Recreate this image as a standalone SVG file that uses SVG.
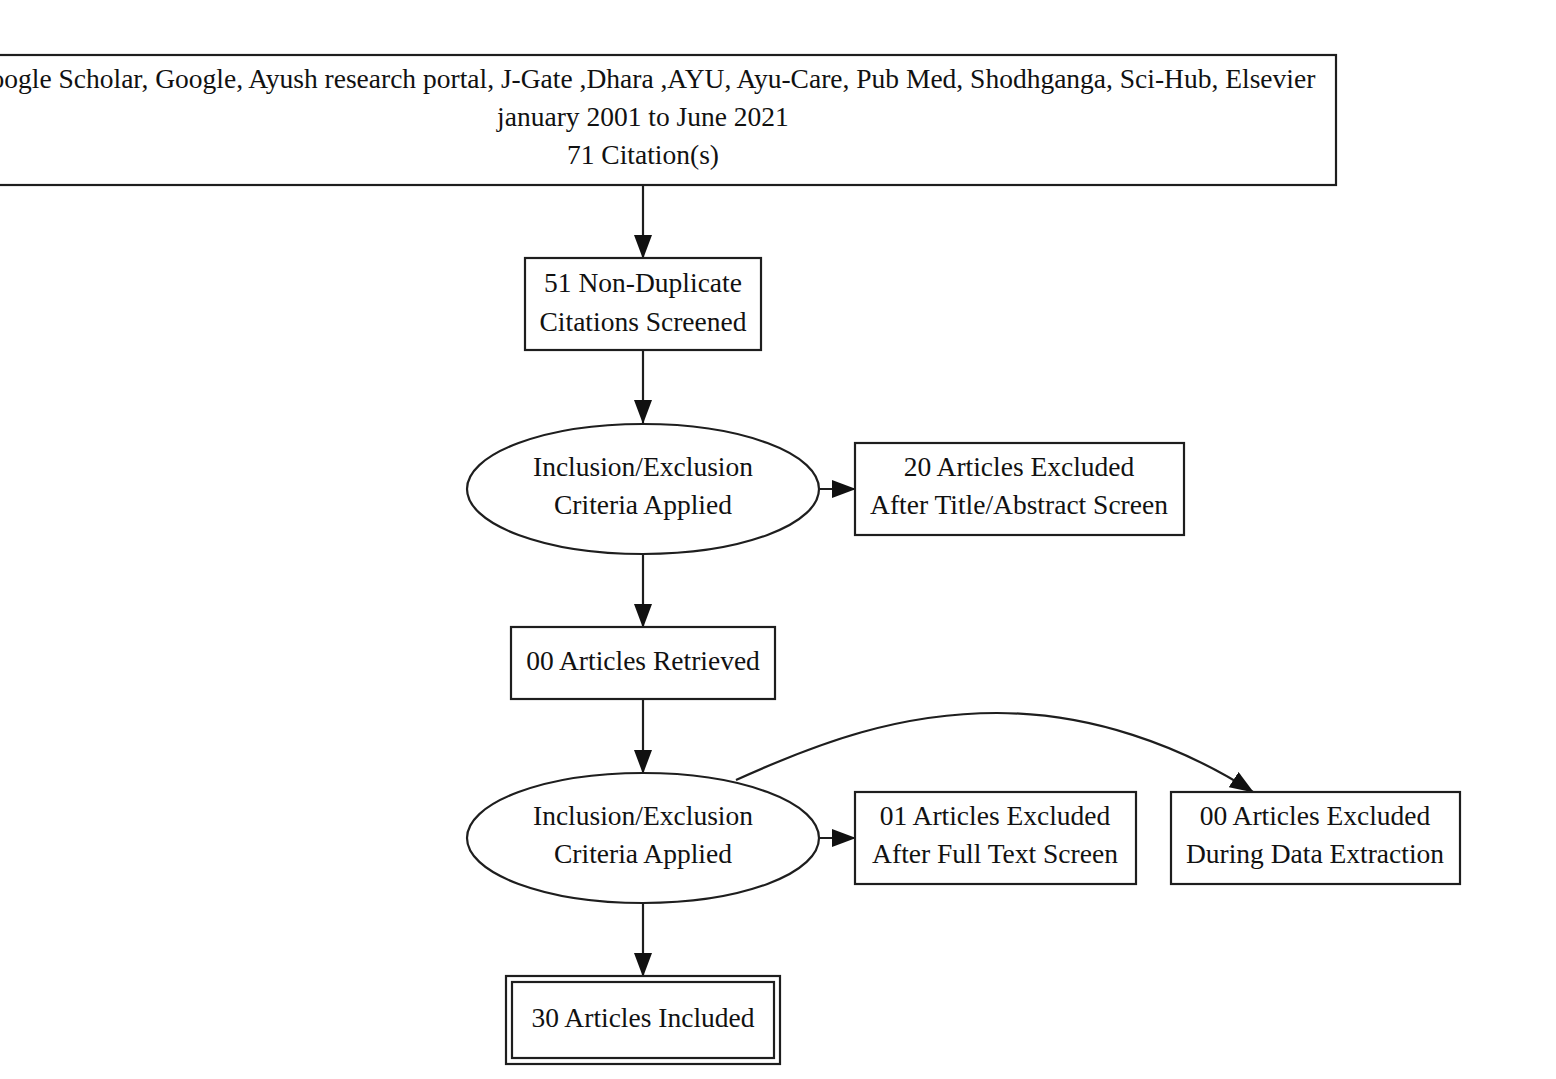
<svg xmlns="http://www.w3.org/2000/svg" width="1556" height="1079" viewBox="0 0 1556 1079">
<defs>
<style>
.n{fill:#fff;stroke:#1e1e1e;stroke-width:2.2}
.t{font-family:"Liberation Serif","Times New Roman",serif;font-size:27.5px;fill:#111;text-anchor:middle}
.e{fill:none;stroke:#1e1e1e;stroke-width:2.2}
</style>
<marker id="ah" markerUnits="userSpaceOnUse" markerWidth="24" markerHeight="18" refX="23" refY="9" orient="auto">
<path d="M0,0 L24,9 L0,18 z" fill="#111"/>
</marker>
</defs>
<rect width="1556" height="1079" fill="#fff"/>
<g id="connectors">
<line class="e" x1="643" y1="185" x2="643" y2="258" marker-end="url(#ah)"/>
<line class="e" x1="643" y1="350" x2="643" y2="423" marker-end="url(#ah)"/>
<line class="e" x1="819" y1="489" x2="855" y2="489" marker-end="url(#ah)"/>
<line class="e" x1="643" y1="554" x2="643" y2="627" marker-end="url(#ah)"/>
<line class="e" x1="643" y1="699" x2="643" y2="773" marker-end="url(#ah)"/>
<line class="e" x1="819" y1="838" x2="855" y2="838" marker-end="url(#ah)"/>
<path class="e" d="M736,780 C820,742 900,713 997,713 C1090,713 1180,745 1253,792" marker-end="url(#ah)"/>
<line class="e" x1="643" y1="903" x2="643" y2="976" marker-end="url(#ah)"/>
</g>
<g id="search">
<rect class="n" x="-50" y="55" width="1386" height="130"/>
<text class="t" x="643" y="88">Google Scholar, Google, Ayush research portal, J-Gate ,Dhara ,AYU, Ayu-Care, Pub Med, Shodhganga, Sci-Hub, Elsevier</text>
<text class="t" x="643" y="126">january 2001 to June 2021</text>
<text class="t" x="643" y="164">71 Citation(s)</text>
</g>
<g id="screened">
<rect class="n" x="525" y="258" width="236" height="92"/>
<text class="t" x="643" y="292">51 Non-Duplicate</text>
<text class="t" x="643" y="331">Citations Screened</text>
</g>
<g id="criteria1">
<ellipse class="n" cx="643" cy="489" rx="176" ry="65"/>
<text class="t" x="643" y="476">Inclusion/Exclusion</text>
<text class="t" x="643" y="514">Criteria Applied</text>
</g>
<g id="excluded1">
<rect class="n" x="855" y="443" width="329" height="92"/>
<text class="t" x="1019" y="476">20 Articles Excluded</text>
<text class="t" x="1019" y="514">After Title/Abstract Screen</text>
</g>
<g id="retrieved">
<rect class="n" x="511" y="627" width="264" height="72"/>
<text class="t" x="643" y="670">00 Articles Retrieved</text>
</g>
<g id="criteria2">
<ellipse class="n" cx="643" cy="838" rx="176" ry="65"/>
<text class="t" x="643" y="825">Inclusion/Exclusion</text>
<text class="t" x="643" y="863">Criteria Applied</text>
</g>
<g id="excluded2">
<rect class="n" x="855" y="792" width="281" height="92"/>
<text class="t" x="995" y="825">01 Articles Excluded</text>
<text class="t" x="995" y="863">After Full Text Screen</text>
</g>
<g id="excluded3">
<rect class="n" x="1171" y="792" width="289" height="92"/>
<text class="t" x="1315" y="825">00 Articles Excluded</text>
<text class="t" x="1315" y="863">During Data Extraction</text>
</g>
<g id="included">
<rect class="n" x="506" y="976" width="274" height="88"/>
<rect class="n" x="512" y="982" width="262" height="76"/>
<text class="t" x="643" y="1027">30 Articles Included</text>
</g>
</svg>
